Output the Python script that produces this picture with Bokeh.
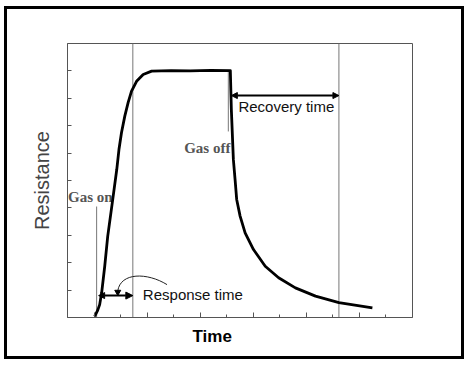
from bokeh.plotting import figure
from bokeh.models import Range1d, FixedTicker, Arrow, NormalHead, Title
from bokeh.core.properties import value
from bokeh.embed import file_html
from bokeh.resources import INLINE

# sensor response curve (arbitrary units)
time = [1.023, 1.136, 1.212, 1.288, 1.402, 1.515, 1.705, 1.856, 1.939, 2.034, 2.159, 2.284,
        2.413, 2.602, 2.852, 3.170, 3.9, 4.621, 5.4, 6.136,
        6.174, 6.25, 6.314, 6.375, 6.504, 6.693, 7.008, 7.451, 7.955, 8.587, 9.345, 10.227, 11.489]
resistance = [0.04, 0.26, 0.47, 0.91, 1.86, 2.96, 4.31, 5.40, 6.13, 6.74, 7.35, 7.84,
              8.26, 8.62, 8.87, 8.99, 9.01, 9.00, 9.02, 9.01,
              7.59, 5.77, 5.04, 4.31, 3.70, 3.09, 2.48, 1.87, 1.45, 1.08, 0.78, 0.54, 0.35]

gas_on_x = 1.098
gas_on_top = 4.05
gas_off_x = 6.06
gas_off_span = [9.0, 6.79]
response_end_x = 2.462
recovery_end_x = 10.227
response_arrow_y = 0.80
recovery_arrow_y = 8.10

x_major = [1, 3, 5, 7, 9, 11]
x_minor = [2, 4, 6, 8, 10, 12]
y_ticks = [1, 2, 3, 4, 5, 6, 7, 8, 9]

p = figure(width=460, height=353, output_backend="svg", toolbar_location=None,
           x_range=Range1d(0, 13), y_range=Range1d(0, 10),
           min_border_left=60, min_border_right=55, min_border_top=34, min_border_bottom=45)
p.styles = {"border": "3px solid black", "margin-top": "6px", "margin-left": "4px",
            "box-sizing": "border-box"}
p.xgrid.visible = False
p.ygrid.visible = False
p.outline_line_color = "#555555"
p.outline_line_width = 1

frame_col = "#555555"
for ax in (p.xaxis[0], p.yaxis[0]):
    ax.axis_line_color = frame_col
    ax.major_tick_line_color = frame_col
    ax.minor_tick_line_color = frame_col
    ax.major_tick_out = 0
    ax.minor_tick_out = 0
    ax.major_label_standoff = 0

p.xaxis.ticker = FixedTicker(ticks=x_major, minor_ticks=x_minor)
p.xaxis.major_label_overrides = {t: "" for t in x_major}
p.xaxis.major_tick_in = 5
p.xaxis.minor_tick_in = 3
p.yaxis.ticker = FixedTicker(ticks=y_ticks, minor_ticks=[])
p.yaxis.major_label_overrides = {t: "" for t in y_ticks}
p.yaxis.major_tick_in = 4

p.yaxis.axis_label = "Resistance"
p.yaxis.axis_label_text_font = "Liberation Sans"
p.yaxis.axis_label_text_font_style = "normal"
p.yaxis.axis_label_text_font_size = "20px"
p.yaxis.axis_label_standoff = 15

p.add_layout(Title(text="Time", text_font="Liberation Sans", text_font_style="bold",
                   text_font_size="17px", align="left", offset=125, standoff=15,
                   text_color="black"), "below")

# guide lines
vcol = "#777777"
p.segment(x0=[gas_on_x], y0=[0], x1=[gas_on_x], y1=[gas_on_top], line_color=vcol, line_width=1)
p.segment(x0=[response_end_x, recovery_end_x], y0=[0, 0], x1=[response_end_x, recovery_end_x],
          y1=[10, 10], line_color=vcol, line_width=1)
p.segment(x0=[gas_off_x], y0=[gas_off_span[0]], x1=[gas_off_x], y1=[gas_off_span[1]],
          line_color=vcol, line_width=1)

# text labels
serif = value("Liberation Serif")
p.text(x=[0.02], y=[4.38], text=["Gas on"], text_font=serif, text_font_style="bold",
       text_font_size="15px", text_color="#555555", text_baseline="middle", text_align="left")
p.text(x=[6.14], y=[6.20], text=["Gas off"], text_font=serif, text_font_style="bold",
       text_font_size="15px", text_color="#555555", text_baseline="middle", text_align="right")
sans = value("Liberation Sans")
p.text(x=[2.84], y=[0.84], text=["Response time"], text_font=sans, text_font_size="15px",
       text_color="#111111", text_baseline="middle", text_align="left")
p.text(x=[6.44], y=[7.70], text=["Recovery time"], text_font=sans, text_font_size="15px",
       text_color="#111111", text_baseline="middle", text_align="left")

# curve
p.line(time, resistance, line_color="black", line_width=2.8, line_join="round")

# arrows
p.add_layout(Arrow(x_start=1.174, y_start=response_arrow_y, x_end=response_end_x, y_end=response_arrow_y,
                   start=NormalHead(size=6, fill_color="black", line_color="black"),
                   end=NormalHead(size=7, fill_color="black", line_color="black"),
                   line_color="black", line_width=2))
p.add_layout(Arrow(x_start=6.174, y_start=recovery_arrow_y, x_end=recovery_end_x, y_end=recovery_arrow_y,
                   start=NormalHead(size=6, fill_color="black", line_color="black"),
                   end=NormalHead(size=6, fill_color="black", line_color="black"),
                   line_color="black", line_width=2))
# curved pointer
p.bezier(x0=[1.894], y0=[0.97], x1=[3.75], y1=[1.2], cx0=[2.0], cy0=[1.65], cx1=[3.0], cy1=[1.65],
         line_color="#222222", line_width=1)
p.scatter(x=[1.894], y=[0.93], marker="inverted_triangle", size=6, color="black")

open("out.html", "w").write(file_html(p, INLINE))
